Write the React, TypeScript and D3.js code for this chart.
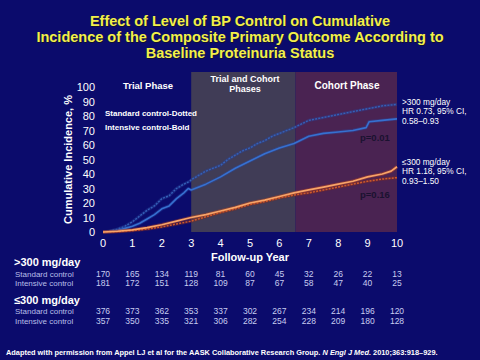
import React from "react";
import * as d3 from "d3";

const years = [0, 1, 2, 3, 4, 5, 6, 7, 8, 9, 10];
const yTicks = [0, 10, 20, 30, 40, 50, 60, 70, 80, 90, 100];

// >300 mg/day, standard control (dotted)
const hiStdX = [0, 0.2, 0.5, 0.75, 1, 1.25, 1.5, 1.75, 2, 2.25, 2.5, 2.75, 2.95, 3, 3.25, 3.5, 3.75, 4, 4.25, 4.5, 4.75, 5, 5.25, 5.5, 5.75, 6, 6.5, 7, 7.5, 8, 8.5, 9, 9.5, 10];
const hiStdY = [0, 0.5, 2, 4, 7, 11, 15, 18, 23, 25, 30, 33, 35, 36, 39, 42, 44, 46, 50, 53, 56, 58, 61, 63, 66, 68, 72, 77, 79, 81, 83, 85, 87, 88];
// >300 mg/day, intensive control (solid)
const hiIntX = [0, 0.2, 0.5, 0.75, 1, 1.25, 1.5, 1.75, 2, 2.25, 2.5, 2.75, 2.9, 3, 3.5, 4, 4.5, 5, 5.5, 6, 6.5, 7, 7.5, 8, 8.5, 8.95, 9.05, 9.5, 10];
const hiIntY = [0, 0.3, 1, 2.5, 4, 6, 9, 12, 16, 18, 23, 27, 30, 29, 33, 38, 44, 49, 54, 58, 61, 66, 68, 69, 70, 72, 76, 77, 78];
// <=300 mg/day, standard control (dotted)
const loStdX = [0, 0.5, 1, 1.5, 2, 2.5, 3, 3.5, 4, 4.5, 5, 5.5, 6, 6.5, 7, 7.5, 8, 8.5, 9, 9.5, 10];
const loStdY = [0, 0.3, 1, 2, 3.5, 5.5, 7.5, 10.5, 13.5, 16, 19, 21, 23.5, 25.5, 27, 29, 31, 33, 35, 36.5, 37.5];
// <=300 mg/day, intensive control (solid)
const loIntX = [0, 0.5, 1, 1.5, 2, 2.5, 3, 3.5, 4, 4.5, 5, 5.5, 6, 6.5, 7, 7.5, 8, 8.5, 9, 9.5, 9.8, 10];
const loIntY = [0, 0.5, 1.5, 3, 5, 7.5, 10, 12, 14.5, 17, 20, 22, 24.5, 27, 29, 31, 33, 35, 38, 40, 42, 45];

const hiStdN = [170, 165, 134, 119, 81, 60, 45, 32, 26, 22, 13];
const hiIntN = [181, 172, 151, 128, 109, 87, 67, 58, 47, 40, 25];
const loStdN = [376, 373, 362, 353, 337, 302, 267, 234, 214, 196, 120];
const loIntN = [357, 350, 335, 321, 306, 282, 254, 228, 209, 180, 128];

const titleLines = [
  "Effect of Level of BP Control on Cumulative",
  "Incidence of the Composite Primary Outcome According to",
  "Baseline Proteinuria Status",
];

const x = d3.scaleLinear().domain([0, 10]).range([103, 397]);
const y = d3.scaleLinear().domain([0, 100]).range([232, 87]);

function pathOf(xs: number[], ys: number[]) {
  const line = d3
    .line<number>()
    .x((_, i) => x(xs[i]))
    .y((d) => y(d));
  return line(ys) || "";
}

const F = "'Liberation Sans', Arial, sans-serif";

export default function App() {
  const curves = [
    { d: pathOf(hiStdX, hiStdY), c: "#3460b8", g: "#28449a", dash: "2,1.2", w: 1.4 },
    { d: pathOf(hiIntX, hiIntY), c: "#3670d0", g: "#284aa8", dash: "", w: 1.6 },
    { d: pathOf(loStdX, loStdY), c: "#d05a2a", g: "#8a2a18", dash: "2,1.2", w: 1.5 },
    { d: pathOf(loIntX, loIntY), c: "#f8a468", g: "#d04818", dash: "", w: 1.7 },
  ];
  const rowY = [274, 283, 311, 321];
  const rows = [hiStdN, hiIntN, loStdN, loIntN];
  const rowLabels = ["Standard control", "Intensive control", "Standard control", "Intensive control"];
  return (
    <svg
      width={480}
      height={360}
      style={{ position: "absolute", left: 0, top: 0 }}
      fontFamily={F}
    >
      <rect width={480} height={360} fill="#0b0b6c" />
      {titleLines.map((t, i) => (
        <g key={i}>
          <text x={241} y={26 + i * 16 + 1} textAnchor="middle" fontSize={14.5} fontWeight="bold" fill="#111133">
            {t}
          </text>
          <text x={240} y={26 + i * 16} textAnchor="middle" fontSize={14.5} fontWeight="bold" fill="#f2f04a">
            {t}
          </text>
        </g>
      ))}
      {/* phase bands */}
      <rect x={x(3)} y={72} width={x(6.55) - x(3)} height={y(0) - 72} fill="#403c56" />
      <rect x={x(6.55)} y={72} width={x(10) - x(6.55)} height={y(0) - 72} fill="#4a2352" />
      <text x={148} y={89} textAnchor="middle" fontSize={9.5} fontWeight="bold" fill="#ffffff">Trial Phase</text>
      <text x={245} y={82} textAnchor="middle" fontSize={9} fontWeight="bold" fill="#ffffff">Trial and Cohort</text>
      <text x={245} y={92} textAnchor="middle" fontSize={9} fontWeight="bold" fill="#ffffff">Phases</text>
      <text x={347} y={89} textAnchor="middle" fontSize={10} fontWeight="bold" fill="#ffffff">Cohort Phase</text>
      <text x={105} y={116} fontSize={8} fontWeight="bold" fill="#ffffff">Standard control-Dotted</text>
      <text x={105} y={130} fontSize={8} fontWeight="bold" fill="#ffffff">Intensive control-Bold</text>
      {/* curves */}
      {curves.map((c, i) => (
        <g key={i}>
          <path d={c.d} fill="none" stroke={c.g} strokeWidth={c.w + 1.8} strokeOpacity={0.4} strokeLinejoin="round" />
          <path d={c.d} fill="none" stroke={c.c} strokeWidth={c.w} strokeDasharray={c.dash || undefined} strokeLinejoin="round" />
        </g>
      ))}
      <text x={360} y={141} fontSize={9.5} fontWeight="bold" fill="#1a1230">p=0.01</text>
      <text x={360} y={198} fontSize={9.5} fontWeight="bold" fill="#1a1230">p=0.16</text>
      {/* right annotations */}
      {[">300 mg/day", "HR 0.73, 95% CI,", "0.58\u20130.93"].map((t, i) => (
        <text key={t} x={402} y={105 + i * 9.3} fontSize={8.3} fill="#ffffff">{t}</text>
      ))}
      {["\u2264300 mg/day", "HR 1.18, 95% CI,", "0.93\u20131.50"].map((t, i) => (
        <text key={t} x={402} y={165 + i * 9.3} fontSize={8.3} fill="#ffffff">{t}</text>
      ))}
      {/* axes */}
      {yTicks.map((t) => (
        <text key={t} x={95} y={y(t) + 4} textAnchor="end" fontSize={11} fill="#ffffff">{t}</text>
      ))}
      {years.map((t) => (
        <text key={t} x={x(t)} y={247} textAnchor="middle" fontSize={11} fill="#ffffff">{t}</text>
      ))}
      <text x={250} y={261} textAnchor="middle" fontSize={11} fontWeight="bold" fill="#ffffff">Follow-up Year</text>
      <text transform={`translate(72,${y(50)}) rotate(-90)`} textAnchor="middle" fontSize={11} fontWeight="bold" fill="#ffffff">
        Cumulative Incidence, %
      </text>
      {/* at-risk table */}
      <text x={14} y={266} fontSize={11} fontWeight="bold" fill="#ffffff">&gt;300 mg/day</text>
      <text x={14} y={304} fontSize={11} fontWeight="bold" fill="#ffffff">{"\u2264300 mg/day"}</text>
      {rows.map((r, ri) => (
        <g key={ri}>
          <text x={15} y={rowY[ri] + 3} fontSize={8} fill="#b8bfe8">{rowLabels[ri]}</text>
          {r.map((v, i) => (
            <text key={i} x={x(years[i])} y={rowY[ri] + 3} textAnchor="middle" fontSize={8.5} fill="#c8cdf0">{v}</text>
          ))}
        </g>
      ))}
      <text x={6} y={355} fontSize={7.4} fontWeight="bold" fill="#ffffff">
        Adapted with permission from Appel LJ et al for the AASK Collaborative Research Group.{" "}
        <tspan fontStyle="italic">N Engl J Med.</tspan> 2010;363:918–929.
      </text>
    </svg>
  );
}
